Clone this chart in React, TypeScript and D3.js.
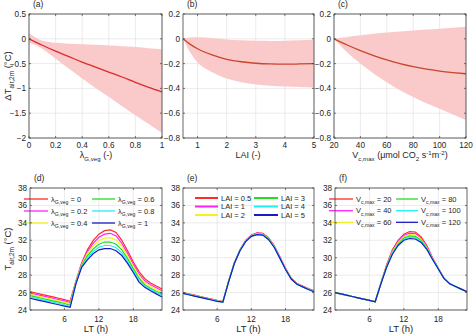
import React from 'react';
import * as d3 from 'd3';

// ---------- Top row data ----------
const lambdaX = [0, 0.1, 0.2, 0.3, 0.4, 0.5, 0.6, 0.7, 0.8, 0.9, 1];
const lambdaMean = [0, -0.13, -0.25, -0.36, -0.47, -0.57, -0.67, -0.77, -0.88, -0.98, -1.07];
const lambdaUpper = [0.11, -0.04, -0.08, -0.1, -0.11, -0.12, -0.135, -0.15, -0.165, -0.19, -0.21];
const lambdaLower = [-0.08, -0.2, -0.4, -0.6, -0.8, -0.99, -1.17, -1.36, -1.54, -1.72, -1.9];

const laiX = [0.5, 0.75, 1, 1.5, 2, 2.5, 3, 3.5, 4, 4.5, 5];
const laiMean = [0, -0.045, -0.08, -0.13, -0.165, -0.185, -0.197, -0.203, -0.205, -0.203, -0.2];
const laiUpper = [0, 0.01, 0.012, 0.005, -0.005, -0.012, -0.016, -0.017, -0.015, -0.012, -0.008];
const laiLower = [0, -0.11, -0.19, -0.27, -0.32, -0.35, -0.368, -0.378, -0.385, -0.389, -0.392];

const vcX = [20, 30, 40, 50, 60, 70, 80, 90, 100, 110, 120];
const vcMean = [0, -0.05, -0.095, -0.135, -0.17, -0.2, -0.225, -0.245, -0.26, -0.272, -0.282];
const vcUpper = [0, 0.015, 0.028, 0.04, 0.05, 0.058, 0.066, 0.074, 0.082, 0.09, 0.097];
const vcLower = [0, -0.11, -0.2, -0.28, -0.35, -0.415, -0.47, -0.52, -0.565, -0.61, -0.655];

// ---------- Bottom row data ----------
const hours = [0, 1, 2, 3, 4, 5, 6, 7, 8, 9, 10, 11, 12, 13, 14, 15, 16, 17, 18, 19, 20, 21, 22, 23];

const lambdaLabels = ['0', '0.2', '0.4', '0.6', '0.8', '1'];
const tLambda0 = [26.1, 25.95, 25.8, 25.65, 25.5, 25.35, 25.2, 25.0, 27.3, 29.4, 30.9, 31.95, 32.7, 33.1, 33.2, 32.9, 32.0, 30.8, 29.5, 28.4, 27.6, 27.1, 26.75, 26.4];
const tLambda02 = [25.95, 25.8, 25.65, 25.5, 25.35, 25.2, 25.05, 24.85, 27.25, 29.3, 30.7, 31.65, 32.35, 32.7, 32.8, 32.5, 31.65, 30.5, 29.25, 28.15, 27.35, 26.9, 26.55, 26.2];
const tLambda04 = [25.8, 25.65, 25.5, 25.35, 25.2, 25.05, 24.9, 24.7, 27.2, 29.2, 30.5, 31.35, 31.95, 32.25, 32.3, 32.05, 31.3, 30.2, 29.0, 27.9, 27.15, 26.7, 26.35, 26.05];
const tLambda06 = [25.65, 25.5, 25.35, 25.2, 25.05, 24.9, 24.75, 24.55, 27.1, 29.1, 30.2, 31.0, 31.55, 31.8, 31.8, 31.55, 30.9, 29.9, 28.75, 27.65, 26.9, 26.5, 26.15, 25.85];
const tLambda08 = [25.5, 25.35, 25.2, 25.05, 24.9, 24.75, 24.6, 24.4, 27.05, 29.0, 29.95, 30.7, 31.2, 31.4, 31.4, 31.15, 30.55, 29.6, 28.5, 27.4, 26.75, 26.35, 26.0, 25.7];
const tLambda1 = [25.35, 25.2, 25.05, 24.9, 24.75, 24.6, 24.45, 24.3, 27.0, 28.9, 29.75, 30.45, 30.9, 31.05, 31.05, 30.8, 30.25, 29.35, 28.3, 27.2, 26.6, 26.2, 25.85, 25.5];

const laiLabels = ['0.5', '1', '2', '3', '4', '5'];
const tLai05 = [26.0, 25.85, 25.7, 25.55, 25.4, 25.25, 25.1, 24.97, 27.3, 29.4, 30.9, 32.0, 32.6, 32.85, 32.8, 32.3, 31.4, 30.1, 28.8, 27.65, 27.05, 26.75, 26.45, 26.2];
const tLai1 = [25.98, 25.83, 25.68, 25.53, 25.38, 25.23, 25.08, 24.96, 27.28, 29.38, 30.88, 31.97, 32.57, 32.81, 32.76, 32.26, 31.36, 30.07, 28.77, 27.63, 27.03, 26.73, 26.43, 26.18];
const tLai2 = [25.95, 25.8, 25.65, 25.5, 25.35, 25.2, 25.05, 24.94, 27.26, 29.35, 30.85, 31.93, 32.53, 32.76, 32.71, 32.21, 31.31, 30.03, 28.73, 27.6, 27.0, 26.7, 26.4, 26.15];
const tLai3 = [25.93, 25.78, 25.63, 25.48, 25.33, 25.18, 25.03, 24.92, 27.24, 29.33, 30.83, 31.9, 32.5, 32.72, 32.67, 32.17, 31.27, 30.0, 28.7, 27.58, 26.98, 26.68, 26.38, 26.13];
const tLai4 = [25.91, 25.76, 25.61, 25.46, 25.31, 25.16, 25.01, 24.91, 27.22, 29.31, 30.81, 31.87, 32.47, 32.68, 32.63, 32.13, 31.23, 29.97, 28.67, 27.56, 26.96, 26.66, 26.36, 26.11];
const tLai5 = [25.9, 25.75, 25.6, 25.45, 25.3, 25.15, 25.0, 24.9, 27.2, 29.3, 30.8, 31.85, 32.45, 32.65, 32.6, 32.1, 31.2, 29.95, 28.65, 27.55, 26.95, 26.65, 26.35, 26.1];

const vcLabels = ['20', '40', '60', '80', '100', '120'];
const tVc20 = [26.0, 25.85, 25.7, 25.55, 25.4, 25.25, 25.1, 24.95, 27.1, 29.2, 30.9, 32.0, 32.7, 33.0, 32.95, 32.4, 31.4, 30.0, 28.8, 27.65, 27.0, 26.7, 26.4, 26.1];
const tVc40 = [26.0, 25.85, 25.7, 25.55, 25.4, 25.25, 25.1, 24.95, 27.08, 29.12, 30.78, 31.85, 32.55, 32.82, 32.78, 32.25, 31.3, 29.95, 28.78, 27.64, 27.0, 26.7, 26.4, 26.1];
const tVc60 = [26.0, 25.85, 25.7, 25.55, 25.4, 25.25, 25.1, 24.95, 27.06, 29.06, 30.68, 31.72, 32.4, 32.66, 32.62, 32.1, 31.2, 29.9, 28.76, 27.63, 27.0, 26.7, 26.4, 26.1];
const tVc80 = [26.0, 25.85, 25.7, 25.55, 25.4, 25.25, 25.1, 24.95, 27.04, 29.0, 30.58, 31.6, 32.25, 32.5, 32.46, 31.97, 31.1, 29.86, 28.74, 27.62, 27.0, 26.7, 26.4, 26.1];
const tVc100 = [26.0, 25.85, 25.7, 25.55, 25.4, 25.25, 25.1, 24.95, 27.02, 28.95, 30.5, 31.5, 32.12, 32.35, 32.3, 31.85, 31.02, 29.83, 28.72, 27.61, 27.0, 26.7, 26.4, 26.1];
const tVc120 = [26.0, 25.85, 25.7, 25.55, 25.4, 25.25, 25.1, 24.95, 27.0, 28.9, 30.4, 31.4, 32.0, 32.2, 32.15, 31.75, 30.95, 29.8, 28.7, 27.6, 27.0, 26.7, 26.4, 26.1];

const seriesColors = ['#ff2a2a', '#ff22ff', '#f6f01e', '#22dd22', '#22f0f0', '#1a1ac8'];

const FONT = 'Liberation Sans, Arial, sans-serif';
const TXT = '#262626';

type Part = [string, 'n' | 'sub' | 'sup'];

function Rich({ parts, size, ...rest }: { parts: Part[]; size: number; [k: string]: any }) {
  let level = 0;
  const small = size * 0.68;
  return (
    <text fontFamily={FONT} fill={TXT} fontSize={size} {...rest}>
      {parts.map(([t, kind], i) => {
        const target = kind === 'sub' ? size * 0.32 : kind === 'sup' ? -size * 0.38 : 0;
        const dy = target - level;
        level = target;
        return (
          <tspan key={i} dy={dy} fontSize={kind === 'n' ? size : small}>
            {t}
          </tspan>
        );
      })}
    </text>
  );
}

type Frame = { x0: number; x1: number; y0: number; y1: number };

function AxesFrame({ f, x, y, xTicks, yTicks }: any) {
  return (
    <g>
      <rect x={f.x0} y={f.y0} width={f.x1 - f.x0} height={f.y1 - f.y0} fill="#fff" />
      {xTicks.map((t: number) => (
        <line key={'gx' + t} x1={x(t)} x2={x(t)} y1={f.y0} y2={f.y1} stroke="#e3e3e3" strokeWidth={0.7} />
      ))}
      {yTicks.map((t: number) => (
        <line key={'gy' + t} x1={f.x0} x2={f.x1} y1={y(t)} y2={y(t)} stroke="#e3e3e3" strokeWidth={0.7} />
      ))}
    </g>
  );
}

function AxesOverlay({ f, x, y, xTicks, yTicks, xFmt, yFmt, tickSize, xLabelY }: any) {
  return (
    <g>
      <rect x={f.x0} y={f.y0} width={f.x1 - f.x0} height={f.y1 - f.y0} fill="none" stroke="#404040" strokeWidth={0.8} />
      {xTicks.map((t: number) => (
        <g key={'tx' + t}>
          <line x1={x(t)} x2={x(t)} y1={f.y1} y2={f.y1 - 2} stroke="#404040" strokeWidth={0.7} />
          <line x1={x(t)} x2={x(t)} y1={f.y0} y2={f.y0 + 2} stroke="#404040" strokeWidth={0.7} />
          <text x={x(t)} y={xLabelY} textAnchor="middle" fontFamily={FONT} fontSize={tickSize} fill={TXT}>
            {xFmt(t)}
          </text>
        </g>
      ))}
      {yTicks.map((t: number) => (
        <g key={'ty' + t}>
          <line x1={f.x0} x2={f.x0 + 2} y1={y(t)} y2={y(t)} stroke="#404040" strokeWidth={0.7} />
          <line x1={f.x1} x2={f.x1 - 2} y1={y(t)} y2={y(t)} stroke="#404040" strokeWidth={0.7} />
          <text x={f.x0 - 3} y={y(t) + 3} textAnchor="end" fontFamily={FONT} fontSize={tickSize} fill={TXT}>
            {yFmt(t)}
          </text>
        </g>
      ))}
    </g>
  );
}

function BandPanel({
  f, xs, mean, upper, lower, xDomain, yDomain, xTicks, yTicks, lineColor, label, xLabel, xLabelX,
}: any) {
  const x = d3.scaleLinear().domain(xDomain).range([f.x0, f.x1]);
  const y = d3.scaleLinear().domain(yDomain).range([f.y1, f.y0]);
  const idx = d3.range(xs.length);
  const area = d3.area<number>().x((i) => x(xs[i])).y0((i) => y(lower[i])).y1((i) => y(upper[i])).curve(d3.curveMonotoneX);
  const line = d3.line<number>().x((i) => x(xs[i])).y((i) => y(mean[i])).curve(d3.curveMonotoneX);
  const fmt = (v: number) => (Math.abs(v) < 1e-9 ? '0' : d3.format('~g')(+v.toFixed(2)));
  const props = { f, x, y, xTicks, yTicks, xFmt: fmt, yFmt: fmt, tickSize: 8.2, xLabelY: 148 };
  return (
    <g>
      <AxesFrame {...props} />
      <path d={area(idx) || ''} fill="#fac3c3" fillOpacity={0.9} />
      <path d={line(idx) || ''} fill="none" stroke={lineColor} strokeWidth={1.3} />
      <AxesOverlay {...props} />
      <text x={f.x0 + 4} y={7} fontFamily={FONT} fontSize={8.5} fill={TXT}>{label}</text>
      <Rich parts={xLabel} size={9} x={xLabelX} y={158} textAnchor="middle" />
    </g>
  );
}

function DiurnalPanel({ f, series, names, prefix, label, legend, legendWidth }: any) {
  const x = d3.scaleLinear().domain([0, 23]).range([f.x0, f.x1]);
  const y = d3.scaleLinear().domain([24, 38]).range([f.y1, f.y0]);
  const line = d3.line<number>().x((_, i) => x(hours[i])).y((v) => y(v));
  const xTicks = [6, 12, 18];
  const yTicks = [24, 26, 28, 30, 32, 34, 36, 38];
  const props = { f, x, y, xTicks, yTicks, xFmt: String, yFmt: String, tickSize: 8.2, xLabelY: 322 };
  return (
    <g>
      <AxesFrame {...props} />
      {series.map((s: number[], i: number) => (
        <path key={i} d={line(s) || ''} fill="none" stroke={seriesColors[i]} strokeWidth={1.2} />
      ))}
      {names.map((n: string, i: number) => {
        const col = Math.floor(i / 3);
        const row = i % 3;
        const ly = f.y0 + legend.rows[row];
        const lx0 = f.x0 + legend.cols[col][0];
        const lx1 = f.x0 + legend.cols[col][1];
        const tx = f.x0 + legend.cols[col][2];
        return (
          <g key={'lg' + i}>
            <line x1={lx0} x2={lx1} y1={ly} y2={ly} stroke={seriesColors[i]} strokeWidth={legendWidth} />
            <Rich parts={[...prefix, [' = ' + n, 'n']]} size={legend.size} x={tx} y={ly + 2.5} />
          </g>
        );
      })}
      <AxesOverlay {...props} />
      <text x={f.x0 + 4} y={181} fontFamily={FONT} fontSize={8.5} fill={TXT}>{label}</text>
      <text x={(f.x0 + f.x1) / 2} y={332} textAnchor="middle" fontFamily={FONT} fontSize={9.5} fill={TXT}>LT (h)</text>
    </g>
  );
}

export default function App() {
  const fa = { x0: 29, x1: 162, y0: 14, y1: 138 };
  const fb = { x0: 183, x1: 314, y0: 14, y1: 138 };
  const fc = { x0: 334, x1: 466, y0: 14, y1: 138 };
  const fd = { x0: 30, x1: 162, y0: 188, y1: 310 };
  const fe = { x0: 183, x1: 314, y0: 188, y1: 310 };
  const ff = { x0: 335, x1: 467, y0: 188, y1: 310 };
  return (
    <svg width={474} height={334} style={{ position: 'absolute', left: 0, top: 0, background: '#fff' }}>
      <rect width={474} height={334} fill="#fff" />
      <BandPanel
        f={fa} xs={lambdaX} mean={lambdaMean} upper={lambdaUpper} lower={lambdaLower}
        xDomain={[0, 1]} yDomain={[-2, 0.5]} xTicks={[0, 0.2, 0.4, 0.6, 0.8, 1]}
        yTicks={[-2, -1.5, -1, -0.5, 0, 0.5]} lineColor="#dc2a2e" label="(a)"
        xLabel={[['λ', 'n'], ['G,veg', 'sub'], [' (-)', 'n']]} xLabelX={96}
      />
      <BandPanel
        f={fb} xs={laiX} mean={laiMean} upper={laiUpper} lower={laiLower}
        xDomain={[0.5, 5]} yDomain={[-0.8, 0.2]} xTicks={[1, 2, 3, 4, 5]}
        yTicks={[-0.8, -0.6, -0.4, -0.2, 0, 0.2]} lineColor="#c8462c" label="(b)"
        xLabel={[['LAI (-)', 'n']]} xLabelX={248}
      />
      <BandPanel
        f={fc} xs={vcX} mean={vcMean} upper={vcUpper} lower={vcLower}
        xDomain={[20, 120]} yDomain={[-0.8, 0.2]} xTicks={[20, 40, 60, 80, 100, 120]}
        yTicks={[-0.8, -0.6, -0.4, -0.2, 0, 0.2]} lineColor="#c8462c" label="(c)"
        xLabel={[['V', 'n'], ['c,max', 'sub'], [' (μmol CO', 'n'], ['2', 'sub'], [' s', 'n'], ['-1', 'sup'], ['m', 'n'], ['-2', 'sup'], [')', 'n']]}
        xLabelX={400}
      />
      <Rich parts={[['ΔT', 'n'], ['air,2m', 'sub'], [' (°C)', 'n']]} size={9.5} x={0} y={0}
        textAnchor="middle" transform="translate(11,76) rotate(-90)" />

      <DiurnalPanel
        f={fd} series={[tLambda0, tLambda02, tLambda04, tLambda06, tLambda08, tLambda1]} names={lambdaLabels}
        prefix={[['λ', 'n'], ['G,veg', 'sub']]} label="(d)" legendWidth={1.3}
        legend={{ rows: [11, 23, 35], cols: [[-6, 18, 21], [62, 85, 88]], size: 7.5 }}
      />
      <DiurnalPanel
        f={fe} series={[tLai05, tLai1, tLai2, tLai3, tLai4, tLai5]} names={laiLabels}
        prefix={[['LAI', 'n']]} label="(e)" legendWidth={2}
        legend={{ rows: [10, 18.5, 27], cols: [[12, 35, 38], [71, 95, 98]], size: 7.5 }}
      />
      <DiurnalPanel
        f={ff} series={[tVc20, tVc40, tVc60, tVc80, tVc100, tVc120]} names={vcLabels}
        prefix={[['V', 'n'], ['c,max', 'sub']]} label="(f)" legendWidth={1.3}
        legend={{ rows: [11, 22.7, 34.3], cols: [[-6, 18, 21], [61, 83, 86]], size: 7.5 }}
      />
      <Rich parts={[['T', 'n'], ['air,2m', 'sub'], [' (°C)', 'n']]} size={9.5} x={0} y={0}
        textAnchor="middle" transform="translate(11,249) rotate(-90)" />
    </svg>
  );
}
